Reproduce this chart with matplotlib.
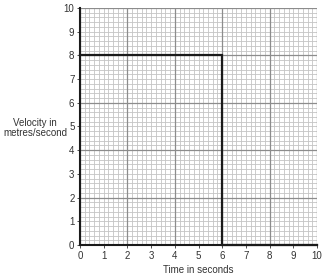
import numpy as np
import matplotlib.pyplot as plt

# velocity-time graph data
time_s = [0, 6, 6, 10]
velocity = [8, 8, 0, 0]
ticks = list(range(0, 11))

fig = plt.figure(figsize=(3.27, 2.78), dpi=100)
ax = fig.add_axes([80 / 327, 33 / 278, 237 / 327, 237 / 278])

plt.rcParams['font.family'] = ['Liberation Sans', 'DejaVu Sans']

# graph paper grid
for v in np.arange(0, 10.01, 0.2):
    major = abs(v / 2 - round(v / 2)) < 1e-6
    c = '#8c8c8c' if major else '#c4c4c4'
    lw = 0.9 if major else 0.6
    ax.axvline(v, color=c, lw=lw, zorder=1 if major else 0)
    ax.axhline(v, color=c, lw=lw, zorder=1 if major else 0)

ax.plot(time_s, velocity, color='#1a1a1a', lw=1.6, zorder=3,
        solid_joinstyle='miter', clip_on=False)

ax.set_xlim(0, 10)
ax.set_ylim(0, 10)
ax.set_xticks(ticks)
ax.set_yticks(ticks)
ax.set_xticklabels([str(t) for t in ticks], fontsize=7, color='#333333',
                   family='Liberation Sans')
ax.set_yticklabels([str(t) for t in ticks], fontsize=7, color='#333333',
                   family='Liberation Sans')
ax.tick_params(which='major', length=2.5, width=0.6, pad=1.5, color='#333333')

for s in ['top', 'right']:
    ax.spines[s].set_visible(False)
for s in ['left', 'bottom']:
    ax.spines[s].set_linewidth(1.5)
    ax.spines[s].set_color('#1a1a1a')
    ax.spines[s].set_zorder(4)

ax.set_xlabel('Time in seconds', fontsize=7, color='#333333',
              family='Liberation Sans', labelpad=3)
fig.text(35 / 327, 1 - 128 / 278, 'Velocity in\nmetres/second', fontsize=7,
         color='#333333', family='Liberation Sans', ha='center', va='center',
         linespacing=1.1)

fig.savefig('out.png', dpi=100)
